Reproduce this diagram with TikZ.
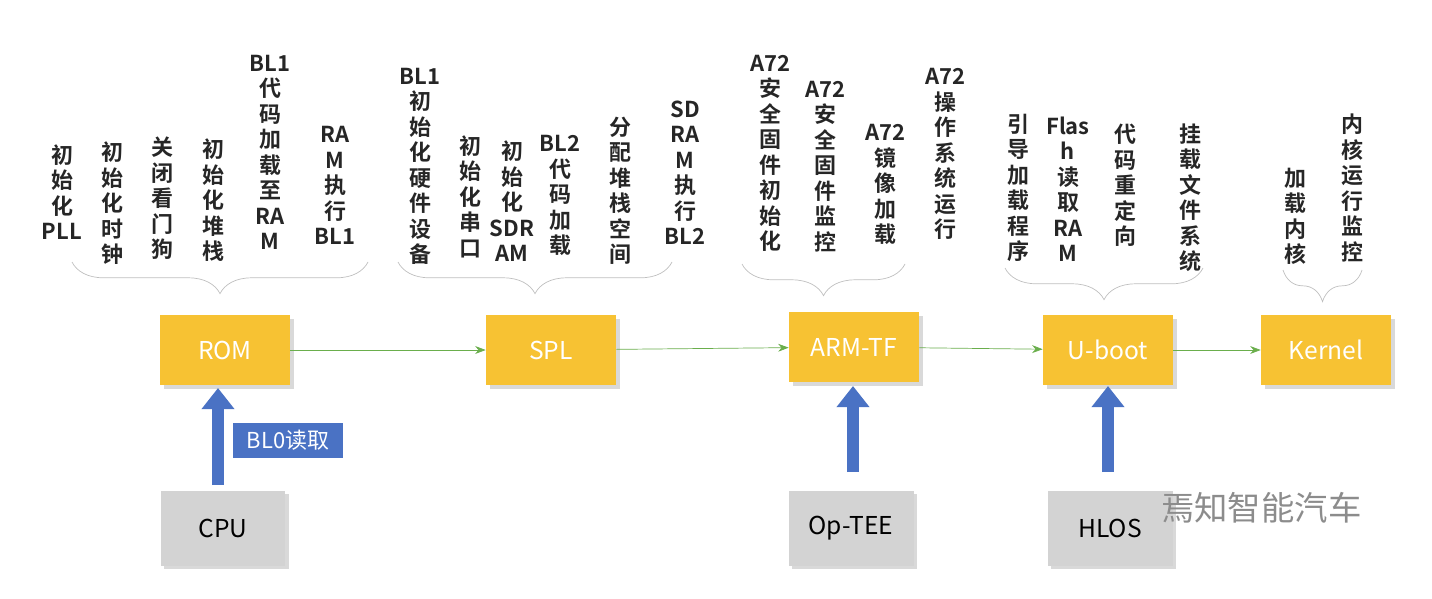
\documentclass[tikz,border=0pt]{standalone}
\usepackage{fontspec}
\setmainfont{Noto Sans CJK SC}[BoldFont={Noto Sans CJK SC Bold}]
\usetikzlibrary{decorations.pathreplacing,arrows.meta,shadows}
\definecolor{gold}{HTML}{F7C233}
\definecolor{gbox}{HTML}{D3D3D3}
\definecolor{barrow}{HTML}{4A72C4}
\definecolor{garrow}{HTML}{6AAE4C}
\tikzset{
 col/.style={anchor=south,align=center,font=\bfseries\fontsize{12.5}{14.5}\selectfont,text=black!85,inner sep=0pt},
 stage/.style={fill=gold,minimum width=2.6cm,minimum height=1.4cm,text=white,font=\fontsize{14}{16}\selectfont,drop shadow={opacity=0.3,shadow xshift=2pt,shadow yshift=-2pt}},
 src/.style={fill=gbox,minimum width=2.5cm,minimum height=1.5cm,text=black,font=\fontsize{14}{16}\selectfont,drop shadow={opacity=0.3,shadow xshift=2pt,shadow yshift=-2pt}},
 brc/.style={draw=black!25,decorate,decoration={brace,amplitude=18pt}},
 flow/.style={draw=garrow,-{Stealth[length=6pt]}},
 up/.style={draw=barrow,line width=7pt,-{Triangle[length=12pt,width=18pt]}}
}
\begin{document}
\begin{tikzpicture}[x=0.02cm,y=-0.02cm]
\useasboundingbox (0,0) rectangle (1432,598);
% columns
\node[col] (c1) at (62,240) {初\\始\\化\\PLL};
\node[col] (c2) at (112,265) {初\\始\\化\\时\\钟};
\node[col] (c3) at (162,260) {关\\闭\\看\\门\\狗};
\node[col] (c4) at (213,262) {初\\始\\化\\堆\\栈};
\node[col] (c5) at (270,250) {BL1\\代\\码\\加\\载\\至\\RA\\M};
\node[col] (c6) at (335,245) {RA\\M\\执\\行\\BL1};
\node[col] (d1) at (420,265) {BL1\\初\\始\\化\\硬\\件\\设\\备};
\node[col] (d2) at (470,258) {初\\始\\化\\串\\口};
\node[col] (d3) at (512,262) {初\\始\\化\\SDR\\AM};
\node[col] (d4) at (560,256) {BL2\\代\\码\\加\\载};
\node[col] (d5) at (620,265) {分\\配\\堆\\栈\\空\\间};
\node[col] (d6) at (685,245) {SD\\RA\\M\\执\\行\\BL2};
\node[col] (e1) at (770,252) {A72\\安\\全\\固\\件\\初\\始\\化};
\node[col] (e2) at (825,252) {A72\\安\\全\\固\\件\\监\\控};
\node[col] (e3) at (885,245) {A72\\镜\\像\\加\\载};
\node[col] (e4) at (945,240) {A72\\操\\作\\系\\统\\运\\行};
\node[col] (f1) at (1018,262) {引\\导\\加\\载\\程\\序};
\node[col] (f2) at (1068,262) {Flas\\h\\读\\取\\RA\\M};
\node[col] (f3) at (1125,247) {代\\码\\重\\定\\向};
\node[col] (f4) at (1190,272) {挂\\载\\文\\件\\系\\统};
\node[col] (g1) at (1295,265) {加\\载\\内\\核};
\node[col] (g2) at (1352,262) {内\\核\\运\\行\\监\\控};
% braces
\draw[brc] (368,262) -- (72,262);
\draw[brc] (672,262) -- (398,262);
\draw[brc] (905,264) -- (742,264);
\draw[brc] (1203,268) -- (1005,268);
\draw[brc] (1362,270) -- (1283,270);
% stages
\node[stage] (rom) at (225,350) {ROM};
\node[stage] (spl) at (551,350) {SPL};
\node[stage] (atf) at (854,347) {ARM-TF};
\node[stage] (ub) at (1108,350) {U-boot};
\node[stage] (ker) at (1326,350) {Kernel};
\draw[flow] (rom) -- (spl);
\draw[flow] (spl) -- (atf);
\draw[flow] (atf) -- (ub);
\draw[flow] (ub) -- (ker);
% sources
\node[src] (cpu) at (223,528) {CPU};
\node[src] (tee) at (851,528) {Op-TEE};
\node[src] (hlos) at (1110,528) {HLOS};
\coordinate (a1) at (218,485);
\coordinate (a2) at (853,472);
\coordinate (a3) at (1108,472);
\draw[up] (a1) -- (218,388);
\draw[up] (a2) -- (853,386);
\draw[up] (a3) -- (1108,386);
\node[fill=barrow,text=white,minimum width=2.2cm,minimum height=0.7cm,font=\fontsize{12.5}{14}\selectfont] (bl0) at (288,440) {BL0读取};
\node[text=black!45,font=\fontsize{19}{22}\selectfont,anchor=west] (wm) at (1155,508) {焉知智能汽车};
\end{tikzpicture}
\end{document}
